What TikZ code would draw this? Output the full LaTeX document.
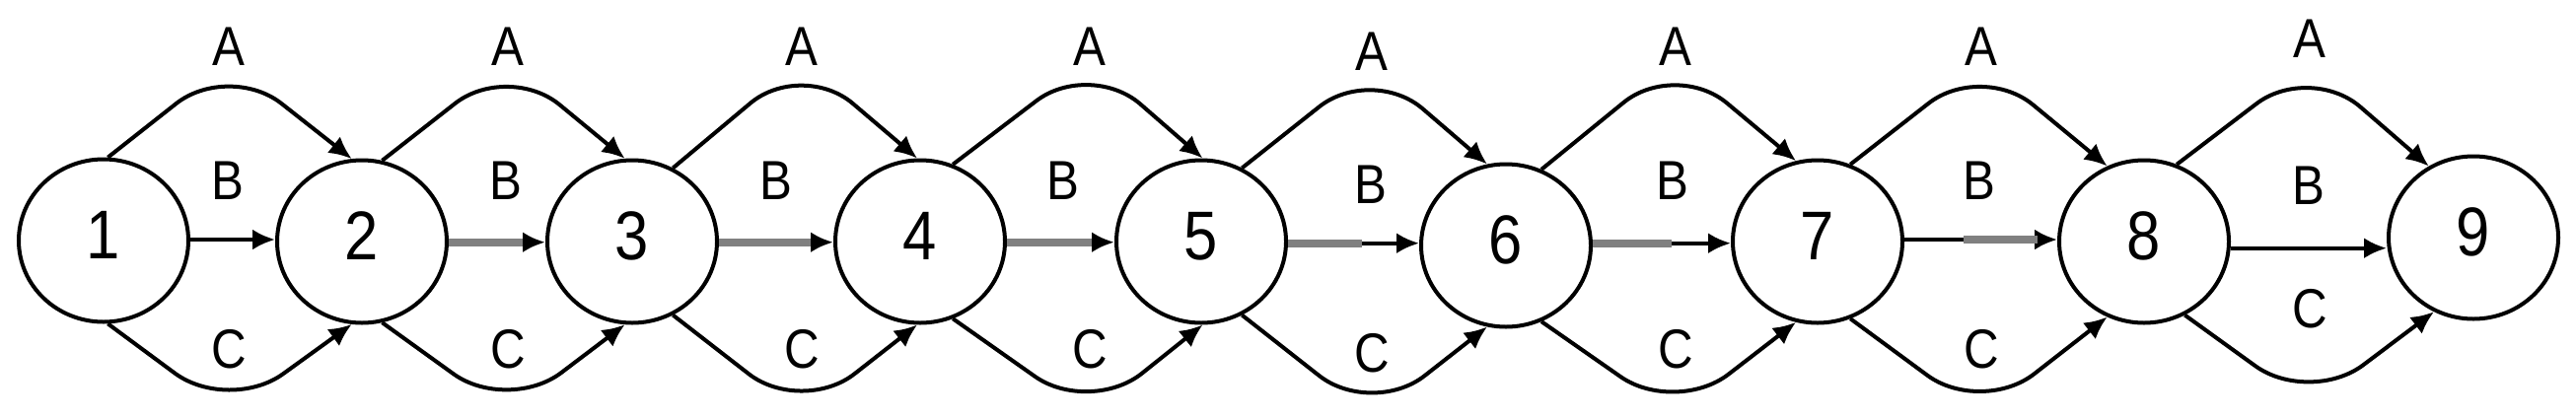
\documentclass[tikz,border=0pt]{standalone}
\usepackage{fontspec}
\newfontfamily\lf{Liberation Sans}[FakeStretch=0.88]
\usetikzlibrary{arrows.meta,shapes.geometric}
\begin{document}
\begin{tikzpicture}[x=1pt,y=-1pt,
  state/.style={ellipse, draw=black, line width=4pt, fill=white,
    minimum width=172pt, minimum height=165pt, inner sep=0pt,
    text height=50pt, text depth=14pt, font=\lf\fontsize{70}{70}\selectfont},
  lbl/.style={inner sep=0pt, font=\lf\fontsize{56}{56}\selectfont},
  tipa/.style={-{Latex[length=23pt,width=21pt,color=black]}},
  arcedge/.style={tipa, draw=black, line width=4pt, rounded corners=68pt},
  bblack/.style={tipa, draw=black, line width=4pt},
  bgray/.style={tipa, draw=black!50, line width=8pt}
]
\useasboundingbox (0,0) rectangle (2612,424);

% states
\node[state] (n1) at (105,244) {1};
\node[state] (n2) at (367,245) {2};
\node[state] (n3) at (641,245) {3};
\node[state] (n4) at (933,245) {4};
\node[state] (n5) at (1218,245) {5};
\node[state] (n6) at (1527,249) {6};
\node[state] (n7) at (1843,245) {7};
\node[state] (n8) at (2174,245) {8};
\node[state] (n9) at (2508,241) {9};

% corner points of the A (top) and C (bottom) arcs
\coordinate (t12) at (232,63);   \coordinate (b12) at (232,419);
\coordinate (t23) at (515,63);   \coordinate (b23) at (515,419);
\coordinate (t34) at (813,61);   \coordinate (b34) at (813,421);
\coordinate (t45) at (1105,61);  \coordinate (b45) at (1105,421);
\coordinate (t56) at (1391,66);  \coordinate (b56) at (1391,423);
\coordinate (t67) at (1699,61);  \coordinate (b67) at (1699,421);
\coordinate (t78) at (2009,63);  \coordinate (b78) at (2009,421);
\coordinate (t89) at (2342,64);  \coordinate (b89) at (2342,411);

% A edges
\draw[arcedge] (n1.87) -- (t12) -- (n2.97);
\draw[arcedge] (n2.76) -- (t23) -- (n3.95);
\draw[arcedge] (n3.61) -- (t34) -- (n4.92);
\draw[arcedge] (n4.67) -- (t45) -- (n5.89);
\draw[arcedge] (n5.61) -- (t56) -- (n6.103);
\draw[arcedge] (n6.65) -- (t67) -- (n7.105);
\draw[arcedge] (n7.67) -- (t78) -- (n8.116);
\draw[arcedge] (n8.67) -- (t89) -- (n9.122);

% C edges
\draw[arcedge] (n1.-87) -- (b12) -- (n2.-97);
\draw[arcedge] (n2.-76) -- (b23) -- (n3.-95);
\draw[arcedge] (n3.-61) -- (b34) -- (n4.-92);
\draw[arcedge] (n4.-67) -- (b45) -- (n5.-89);
\draw[arcedge] (n5.-61) -- (b56) -- (n6.-103);
\draw[arcedge] (n6.-65) -- (b67) -- (n7.-105);
\draw[arcedge] (n7.-67) -- (b78) -- (n8.-116);
\draw[arcedge] (n8.-61) -- (b89) -- (n9.-118);

% B edges
\draw[bblack] ([yshift=1pt]n1.east) -- ([yshift=2pt]n2.west);
\draw[bgray] ([yshift=-0.7pt]n2.east) -- ([yshift=-0.7pt]n3.west);
\draw[bgray] ([yshift=-0.7pt]n3.east) -- ([yshift=-0.7pt]n4.west);
\draw[bgray] ([yshift=-0.7pt]n4.east) -- ([yshift=-0.7pt]n5.west);
\draw[bblack, postaction={draw=black!50, line width=8pt, -, dash pattern=on 75pt off 3000pt}]
  ([yshift=-1.7pt]n5.east) -- ([yshift=2.3pt]n6.west);
\draw[bblack, postaction={draw=black!50, line width=8pt, -, dash pattern=on 80pt off 3000pt}]
  ([yshift=2.3pt]n6.east) -- ([yshift=-1.7pt]n7.west);
\draw[bblack, postaction={draw=black!50, line width=8pt, -, dash pattern=on 0pt off 60pt on 75pt off 3000pt}]
  ([yshift=2pt]n7.east) -- ([yshift=2pt]n8.west);
\draw[bblack] ([yshift=-6.7pt]n8.east) -- ([yshift=-10.7pt]n9.west);

% labels A
\node[lbl] (la12) at (232,47.5) {A};
\node[lbl] (la23) at (515,47.5) {A};
\node[lbl] (la34) at (813,47.5) {A};
\node[lbl] (la45) at (1105,47.5) {A};
\node[lbl] (la56) at (1391,52.5) {A};
\node[lbl] (la67) at (1699,47.5) {A};
\node[lbl] (la78) at (2009,47.5) {A};
\node[lbl] (la89) at (2342,39) {A};
% labels B
\node[lbl] (lb12) at (231,183) {B};
\node[lbl] (lb23) at (513,183) {B};
\node[lbl] (lb34) at (787,183) {B};
\node[lbl] (lb45) at (1078,183) {B};
\node[lbl] (lb56) at (1390,187) {B};
\node[lbl] (lb67) at (1696,183) {B};
\node[lbl] (lb78) at (2007,183) {B};
\node[lbl] (lb89) at (2341,188) {B};
% labels C
\node[lbl] (lc12) at (232,354) {C};
\node[lbl] (lc23) at (515,354) {C};
\node[lbl] (lc34) at (813,354) {C};
\node[lbl] (lc45) at (1105,354) {C};
\node[lbl] (lc56) at (1391,358) {C};
\node[lbl] (lc67) at (1699,354) {C};
\node[lbl] (lc78) at (2009,354) {C};
\node[lbl] (lc89) at (2342,313) {C};
\end{tikzpicture}
\end{document}
